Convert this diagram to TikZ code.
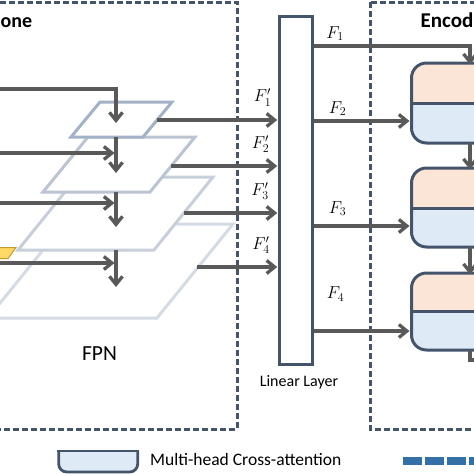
\documentclass[tikz,border=0pt]{standalone}
\usepackage{fontspec}
\setmainfont{Carlito}
\usetikzlibrary{arrows.meta}
\definecolor{arrowgray}{HTML}{595959}
\definecolor{slate}{HTML}{44546A}
\definecolor{peach}{HTML}{FBE5D6}
\definecolor{paleblue}{HTML}{DEEBF7}
\definecolor{legblue}{HTML}{3470A8}
\definecolor{planeA}{HTML}{A4B2C7}
\definecolor{planeB}{HTML}{BAC4D2}
\definecolor{planeC}{HTML}{C7CFDB}
\definecolor{planeD}{HTML}{D4DBE5}
\definecolor{yellowfill}{HTML}{FFD966}
\definecolor{yellowline}{HTML}{C39A1E}
\begin{document}
\begin{tikzpicture}[x=1pt,y=-1pt,
  arr/.style={draw=arrowgray, line width=3.3pt, -{Straight Barb[length=8pt,width=13pt]}},
  ln/.style={draw=arrowgray, line width=3.3pt},
  dbox/.style={draw=slate, line width=3pt, dash pattern=on 6pt off 3pt},
  plane/.style={fill=white, line width=3pt, line join=miter},
  blk/.style={draw=slate, line width=3pt, rounded corners=15pt},
  flab/.style={inner sep=0pt, font=\fontsize{18.5}{22}\selectfont},
]
\useasboundingbox (0,0) rectangle (474,474);

% dashed group boxes
\draw[dbox] (-10,2) rectangle (237,429);
\draw[dbox] (370,2) rectangle (500,429);

% titles
\node[font=\bfseries\fontsize{20}{24}\selectfont, anchor=base west, inner sep=0pt] (bbtitle) at (0.5,27) {one};
\node[font=\bfseries\fontsize{21}{25}\selectfont, anchor=base east, inner sep=0pt] (enctitle) at (473.5,27) {Encod};

% FPN planes (bottom to top)
\filldraw[plane, draw=planeD] (64,224) -- (233,224) -- (157,318) -- (-12,318) -- cycle;
\filldraw[plane, draw=planeC] (77,177) -- (213,177) -- (154,250) -- (18,250) -- cycle;
\filldraw[plane, draw=planeB] (88,137) -- (195,137) -- (150,192) -- (43,192) -- cycle;
\filldraw[plane, draw=planeA] (100,102) -- (172,102) -- (143,137) -- (71,137) -- cycle;

% yellow piece
\filldraw[fill=yellowfill, draw=yellowline, line width=1pt] (-2,247.5) -- (16,247.5) -- (8,258.5) -- (-2,258.5) -- cycle;

% FPN arrows
\coordinate (in1) at (0,89);   \coordinate (t1) at (116,123);
\coordinate (in2) at (0,153);  \coordinate (h2) at (114.5,153);
\coordinate (in3) at (0,203);  \coordinate (h3) at (114.5,203);
\coordinate (in4) at (0,263);  \coordinate (h4) at (114.5,263);
\coordinate (v2s) at (116,137); \coordinate (v2e) at (116,173);
\coordinate (v3s) at (116,192); \coordinate (v3e) at (116,227);
\coordinate (v4s) at (116,250); \coordinate (v4e) at (116,287);
\draw[arr] (in1) -| (t1);
\draw[arr] (in2) -- (h2);
\draw[arr] (in3) -- (h3);
\draw[arr] (in4) -- (h4);
\draw[arr] (v2s) -- (v2e);
\draw[arr] (v3s) -- (v3e);
\draw[arr] (v4s) -- (v4e);

\node[font=\fontsize{21.5}{26}\selectfont, anchor=base, inner sep=0pt] (fpn) at (99.5,360) {FPN};

% linear layer
\node[draw=slate, fill=white, line width=3.2pt, minimum width=32.3pt, minimum height=347.7pt, inner sep=0pt] (lin) at (296,190.5) {};
\node[font=\fontsize{16}{19}\selectfont, anchor=base, inner sep=0pt] (lintext) at (299,386.5) {Linear Layer};

% FPN outputs to linear layer
\coordinate (o1) at (157,120);
\coordinate (o2) at (171,166);
\coordinate (o3) at (184,213);
\coordinate (o4) at (197,267);
\draw[arr] (o1) -- ([xshift=-1pt]o1 -| lin.west);
\draw[arr] (o2) -- ([xshift=-1pt]o2 -| lin.west);
\draw[arr] (o3) -- ([xshift=-1pt]o3 -| lin.west);
\draw[arr] (o4) -- ([xshift=-1pt]o4 -| lin.west);
\node[flab] (fp1) at (262.5,97.5) {$F'_1$};
\node[flab] (fp2) at (260.5,144) {$F'_2$};
\node[flab] (fp3) at (260,191) {$F'_3$};
\node[flab] (fp4) at (261,245) {$F'_4$};

% encoder blocks
\foreach \nm/\t/\m/\b in {b1/63/103/143, b2/168/208/247, b3/273/311.5/350}{
  \fill[peach, rounded corners=15pt] (411.5,\t) rectangle (520,\b);
  \begin{scope}
    \clip (400,\m) rectangle (530,\b+5);
    \fill[paleblue, rounded corners=15pt] (411.5,\t) rectangle (520,\b);
  \end{scope}
  \draw[blk] (411.5,\t) rectangle (520,\b);
  \draw[draw=slate, line width=3pt] (411.5,\m) -- (520,\m);
  \coordinate (\nm top) at (470,\t);
  \coordinate (\nm bot) at (470,\b);
}

% linear layer outputs
\coordinate (f1) at (314,46);
\coordinate (f2) at (314,121);
\coordinate (f3) at (314,226);
\coordinate (f4) at (314,331);
\coordinate (f1c) at (470,46);
\draw[arr] (f1 -| lin.east) -- (f1c) -- ([yshift=-1.5pt]b1top);
\draw[arr] (f2 -| lin.east) -- (409.5,121);
\draw[arr] (f3 -| lin.east) -- (409.5,226);
\draw[arr] (f4 -| lin.east) -- (409.5,331);
\node[flab] (f1l) at (335,33.5) {$F_1$};
\node[flab] (f2l) at (337.5,108.5) {$F_2$};
\node[flab] (f3l) at (337.5,208.5) {$F_3$};
\node[flab] (f4l) at (335.5,294) {$F_4$};

% arrows between blocks
\draw[arr] (b1bot) -- ([yshift=-1.5pt]b2top);
\draw[arr] (b2bot) -- ([yshift=-1.5pt]b3top);
\coordinate (stub) at (490,360);
\draw[ln] (b3bot) |- (stub);

% legend
\begin{scope}
  \clip (40,451) rectangle (160,480);
  \filldraw[fill=paleblue, draw=slate, line width=2.8pt, rounded corners=8pt] (58.7,430) rectangle (137.7,472);
\end{scope}
\draw[draw=slate, line width=2.8pt] (57.3,451) -- (139.1,451);
\node[font=\fontsize{17.5}{21}\selectfont, anchor=base west, inner sep=0pt] (legtext) at (150,465) {Multi-head Cross-attention};
\coordinate (lg1) at (403,460.5);
\coordinate (lg2) at (490,460.5);
\draw[draw=legblue, line width=8pt, dash pattern=on 18.5pt off 3.5pt] (lg1) -- (lg2);
\end{tikzpicture}
\end{document}
